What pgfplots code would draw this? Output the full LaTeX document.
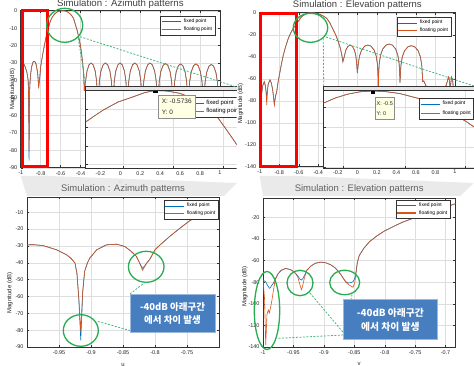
\documentclass[border=0pt]{standalone}
\usepackage{fontspec}
\setmainfont{Liberation Sans}
\newfontfamily\krfont{Noto Sans CJK KR}
\usepackage{pgfplots}
\usepackage{pgfplotstable}
\pgfplotsset{compat=1.18}
\definecolor{mblue}{RGB}{0,114,189}
\definecolor{morange}{RGB}{217,83,25}
\definecolor{mgreen}{RGB}{40,172,80}
\definecolor{dgreen}{RGB}{70,185,130}
\definecolor{boxblue}{RGB}{70,126,192}
\definecolor{tipbg}{RGB}{255,255,228}

\pgfplotstableread{
u fix flt
-1.000 -29.4 -29.4
-0.990 -29.3 -29.3
-0.975 -29.8 -29.8
-0.965 -31.0 -31.0
-0.954 -32.3 -32.3
-0.945 -34.0 -34.0
-0.938 -35.3 -35.3
-0.931 -37.5 -37.5
-0.925 -40.2 -40.2
-0.922 -46.2 -46.2
-0.919 -62 -61
-0.916 -86 -81
-0.913 -58 -57
-0.910 -45.2 -45.2
-0.906 -40.5 -40.5
-0.902 -37.3 -37.3
-0.891 -32.3 -32.3
-0.876 -29.4 -29.4
-0.860 -29.0 -29.0
-0.847 -30.4 -30.4
-0.837 -33.3 -33.3
-0.829 -36.3 -36.3
-0.824 -40.2 -40.2
-0.8195 -43.3 -44.5
-0.816 -41.8 -42.3
-0.813 -40.2 -40.2
-0.808 -37.9 -37.9
-0.800 -32.3 -32.3
-0.792 -29.4 -29.4
-0.777 -24.4 -24.4
-0.761 -19.5 -19.5
-0.745 -14.9 -14.9
-0.730 -11.6 -11.6
-0.714 -8.2 -8.2
-0.700 -5.7 -5.7
-0.680 -3.4 -3.4
-0.660 -1.9 -1.9
-0.640 -0.9 -0.9
-0.620 -0.35 -0.35
-0.600 -0.08 -0.08
-0.5736 0 0
-0.550 -0.2 -0.2
-0.530 -0.7 -0.7
-0.510 -1.5 -1.5
-0.490 -2.7 -2.7
-0.470 -4.3 -4.3
-0.452 -7.8 -7.8
-0.435 -11 -11
-0.418 -15 -15
-0.402 -19.6 -19.6
-0.390 -24 -24
-0.378 -30 -30
-0.368 -36 -36
-0.362 -46 -46
-0.3483 -40.2 -40.2
-0.3346 -34.6 -34.6
-0.3141 -31 -31
-0.2935 -30 -30
-0.2730 -31 -31
-0.2524 -34.6 -34.6
-0.2387 -40.2 -40.2
-0.2305 -48 -48
-0.225 -70 -70
-0.219 -48 -48
-0.210 -40.2 -40.2
-0.195 -34.6 -34.6
-0.1725 -31 -31
-0.150 -30 -30
-0.1275 -31 -31
-0.105 -34.6 -34.6
-0.090 -40.2 -40.2
-0.081 -48 -48
-0.075 -70 -70
-0.0692 -48 -48
-0.0605 -40.2 -40.2
-0.046 -34.6 -34.6
-0.0243 -31 -31
-0.0025 -30 -30
0.0193 -31 -31
0.041 -34.6 -34.6
0.0555 -40.2 -40.2
0.0642 -48 -48
0.070 -70 -70
0.076 -48 -48
0.085 -40.2 -40.2
0.100 -34.6 -34.6
0.1225 -31 -31
0.145 -30 -30
0.1675 -31 -31
0.190 -34.6 -34.6
0.205 -40.2 -40.2
0.214 -48 -48
0.220 -70 -70
0.2262 -48 -48
0.2355 -40.2 -40.2
0.251 -34.6 -34.6
0.2743 -31 -31
0.2975 -30 -30
0.3208 -31 -31
0.344 -34.6 -34.6
0.3595 -40.2 -40.2
0.3688 -48 -48
0.375 -70 -70
0.3812 -48.3 -48.3
0.3905 -40.5 -40.5
0.406 -34.9 -34.9
0.4293 -31.3 -31.3
0.4525 -30.3 -30.3
0.4758 -31.3 -31.3
0.499 -34.9 -34.9
0.5145 -40.5 -40.5
0.5238 -48.3 -48.3
0.530 -70 -70
0.536 -48.5 -48.5
0.545 -40.7 -40.7
0.560 -35.1 -35.1
0.5825 -31.5 -31.5
0.605 -30.5 -30.5
0.6275 -31.5 -31.5
0.650 -35.1 -35.1
0.665 -40.7 -40.7
0.674 -48.5 -48.5
0.680 -70 -70
0.6862 -48.5 -48.5
0.6955 -40.7 -40.7
0.711 -35.1 -35.1
0.7343 -31.5 -31.5
0.7575 -30.5 -30.5
0.7808 -31.5 -31.5
0.804 -35.1 -35.1
0.8195 -40.7 -40.7
0.8288 -48.5 -48.5
0.835 -70 -70
0.8412 -48.8 -48.8
0.8505 -41 -41
0.866 -35.4 -35.4
0.8893 -31.8 -31.8
0.9125 -30.8 -30.8
0.9358 -31.8 -31.8
0.959 -35.4 -35.4
0.9745 -41 -41
0.9838 -48.8 -48.8
0.990 -70 -70
1.000 -48 -48
}\aztab

\pgfplotstableread{
u fix flt
-1.000 -88 -88
-0.993 -83 -83
-0.987 -79 -79
-0.978 -72 -72
-0.968 -66 -66
-0.953 -62.7 -62.7
-0.943 -66 -66
-0.935 -71 -72
-0.928 -77.8 -84
-0.922 -72 -72
-0.913 -65 -65
-0.895 -61.2 -61.2
-0.880 -64 -64
-0.866 -71 -71
-0.856 -78 -79
-0.850 -83 -84
-0.845 -80 -80
-0.838 -76 -76
-0.826 -71.8 -71.8
-0.810 -62 -62
-0.792 -53.6 -53.6
-0.775 -45.5 -45.5
-0.758 -38.5 -38.5
-0.735 -31 -31
-0.707 -23.3 -23.3
-0.680 -18 -18
-0.656 -14.2 -14.2
-0.621 -9.7 -9.7
-0.595 -6.5 -6.5
-0.570 -3.6 -3.6
-0.535 -1.5 -1.5
-0.505 -0.4 -0.4
-0.470 0 0
-0.435 -0.3 -0.3
-0.405 -0.9 -0.9
-0.380 -1.7 -1.7
-0.345 -3.2 -3.2
-0.314 -5.1 -5.1
-0.280 -9.5 -9.5
-0.246 -15.7 -15.7
-0.220 -20.5 -20.5
-0.195 -26.4 -26.4
-0.172 -33 -33
-0.158 -39 -39
-0.148 -44.5 -44.5
-0.1332 -39.7 -39.7
-0.1184 -34.1 -34.1
-0.0962 -30.5 -30.5
-0.074 -29.5 -29.5
-0.0518 -30.5 -30.5
-0.0296 -34.1 -34.1
-0.0148 -39.7 -39.7
-0.0059 -47.5 -47.5
0.000 -55 -55
0.0086 -47.4 -47.4
0.0215 -39.6 -39.6
0.043 -34.0 -34.0
0.0753 -30.4 -30.4
0.1075 -29.4 -29.4
0.1398 -30.4 -30.4
0.172 -34.0 -34.0
0.1935 -39.6 -39.6
0.2064 -47.4 -47.4
0.2118 -56 -56
0.215 -80 -80
0.2183 -55 -55
0.2239 -46.5 -46.5
0.2372 -38.7 -38.7
0.2594 -33.1 -33.1
0.2927 -29.5 -29.5
0.326 -28.5 -28.5
0.3593 -29.5 -29.5
0.3926 -33.1 -33.1
0.4148 -38.7 -38.7
0.4281 -46.5 -46.5
0.4337 -55 -55
0.437 -63.6 -63.6
0.4405 -56.5 -56.5
0.4463 -48 -48
0.4602 -40.2 -40.2
0.4834 -34.6 -34.6
0.5182 -31 -31
0.553 -30 -30
0.5878 -31 -31
0.6226 -34.6 -34.6
0.6458 -40.2 -40.2
0.6597 -48 -48
0.6655 -56.5 -56.5
0.669 -62.7 -62.7
0.680 -62 -62
0.700 -66 -66
0.740 -74 -74
0.790 -80 -80
0.840 -76 -76
0.880 -70 -70
0.910 -66 -66
0.925 -61 -61
0.935 -58.5 -58.5
0.943 -62 -62
0.950 -68 -72
0.957 -64 -64
0.965 -58.5 -58.5
0.975 -61 -61
0.985 -70 -70
1.000 -85 -85
}\eltab

\pgfplotstableread{
u fix flt
-1.000 -78 -78
-0.9975 -79 -95
-0.9955 -79.5 -138
-0.9935 -82 -110
-0.9913 -84 -105.7
-0.9895 -85.7 -108.5
-0.9875 -85 -103
-0.9857 -83 -98
-0.983 -81 -88
-0.980 -77 -78
-0.975 -72 -72
-0.970 -69 -69
-0.963 -67.3 -67.3
-0.955 -68.3 -68.3
-0.948 -70.9 -70.9
-0.943 -74 -75
-0.939 -77.5 -83
-0.937 -78 -87
-0.935 -77 -84
-0.932 -74 -76
-0.928 -69 -69
-0.921 -65 -65
-0.914 -62.5 -62.5
-0.905 -61.4 -61.4
-0.896 -62.2 -62.2
-0.889 -63.8 -63.8
-0.882 -66.5 -66.5
-0.877 -69.5 -69.5
-0.872 -73 -73
-0.868 -76.5 -76.5
-0.864 -79.5 -80
-0.860 -80.8 -82
-0.856 -80.5 -83.5
-0.852 -79.5 -84.7
-0.849 -76 -80
-0.847 -70 -71
-0.845 -62 -62
-0.842 -55.5 -55.5
-0.834 -48.4 -48.4
-0.825 -42.5 -42.5
-0.8125 -37 -37
-0.800 -32.5 -32.5
-0.785 -28.3 -28.3
-0.770 -24.3 -24.3
-0.752 -20.6 -20.6
-0.740 -17.8 -17.8
-0.725 -14.4 -14.4
-0.712 -12.3 -12.3
-0.700 -10.5 -10.5
-0.684 -7.4 -7.4
-0.670 -5.5 -5.5
}\eldtab

\pgfplotsset{
  mat/.style={
    scale only axis,
    anchor=north west,
    axis background/.style={fill=white},
    grid=major,
    major grid style={draw=black!13, line width=0.35pt},
    axis line style={draw=black!80, line width=0.45pt},
    tick align=inside,
    major tick length=2.2bp,
    tick style={draw=black!80, line width=0.35pt},
    tick label style={font=\fontsize{5.5}{6}\selectfont, text=black!85},
    /pgf/number format/assume math mode=true,
    legend cell align=left,
    legend style={draw=black!80, line width=0.4pt, fill=white,
      font=\fontsize{5}{5.5}\selectfont, inner sep=0.8bp, row sep=-1.2bp,
      anchor=north east},
    legend image code/.code={\draw[##1] (0bp,0bp) -- (19bp,0bp);},
    label style={font=\fontsize{6}{7}\selectfont, text=black!85},
    title style={font=\fontsize{9.5}{10}\selectfont, text=black!75, anchor=base, at={(0.5,1)}},
  },
}

\begin{document}
\begin{tikzpicture}
\useasboundingbox (0,0) rectangle (474bp,366bp);
\clip (0,0) rectangle (474bp,366bp);
\fill[white] (0,0) rectangle (474bp,366bp);

% ---------- top left ----------
\begin{axis}[mat, at={(20.7bp,355.3bp)}, width=199.3bp, height=157bp,
  xmin=-1, xmax=1, ymin=-90, ymax=0,
  xtick={-1,-0.8,-0.6,-0.4,-0.2,0,0.2,0.4,0.6,0.8,1},
  ytick={-90,-80,-70,-60,-50,-40,-30,-20,-10,0},
  title={Simulation : Azimuth patterns},
  title style={yshift=-1.8bp, font=\fontsize{9.7}{10}\selectfont},
  xlabel={u}, xlabel style={at={(axis description cs:0.5,-0.089)}, anchor=center},
  ylabel={Magnitude (dB)}, ylabel style={at={(axis description cs:-0.041,0.5)}, anchor=center},
  legend style={at={(0.975,0.966)}}]
\addplot[mblue, line width=0.6bp, forget plot] table[x=u,y=fix]{\aztab};
\addplot[morange, line width=0.6bp, forget plot] table[x=u,y=flt]{\aztab};
\addlegendimage{mblue, line width=0.6bp}\addlegendentry{fixed point}
\addlegendimage{morange, line width=1.3bp}\addlegendentry{floating point}
\end{axis}

% ---------- top right ----------
\begin{axis}[mat, at={(259.7bp,353.3bp)}, width=195.3bp, height=154bp,
  xmin=-1, xmax=1, ymin=-140, ymax=0,
  xtick={-1,-0.8,-0.6,-0.4,-0.2,0,0.2,0.4,0.6,0.8,1},
  ytick={-140,-120,-100,-80,-60,-40,-20,0},
  title={Simulation : Elevation patterns},
  title style={yshift=-0.6bp},
  xlabel={v}, xlabel style={at={(axis description cs:0.5,-0.099)}, anchor=center},
  ylabel={Magnitude (dB)}, ylabel style={at={(axis description cs:-0.098,0.41)}, anchor=center},
  legend style={at={(0.98,0.97)}}]
\addplot[mblue, line width=0.6bp, forget plot] table[x=u,y=fix]{\eltab};
\addplot[morange, line width=0.6bp, forget plot] table[x=u,y=flt]{\eltab};
\addlegendimage{mblue, line width=0.6bp}\addlegendentry{fixed point}
\addlegendimage{morange, line width=1.3bp}\addlegendentry{floating point}
\end{axis}

% ---------- grey fans ----------
\begin{scope}[x=1bp,y=-1bp,yshift=366bp]
\fill[black!9, opacity=0.9] (20.7,176) -- (50,176) -- (237,183) -- (224,196) -- (27,196) -- cycle;
\fill[black!9, opacity=0.9] (259.7,176) -- (297,176) -- (474,183) -- (460,196) -- (263,196) -- cycle;
\end{scope}

% ---------- bottom left ----------
\begin{axis}[mat, at={(27bp,169bp)}, width=192bp, height=150bp,
  xmin=-1, xmax=-0.7, ymin=-90, ymax=-1,
  xtick={-0.95,-0.9,-0.85,-0.8,-0.75},
  ytick={-90,-80,-70,-60,-50,-40,-30,-20,-10},
  title={Simulation : Azimuth patterns},
  title style={yshift=-0.3bp, text=black!62},
  xlabel={u}, xlabel style={at={(axis description cs:0.5,-0.118)}, anchor=center},
  ylabel={Magnitude (dB)}, ylabel style={at={(axis description cs:-0.089,0.36)}, anchor=center},
  legend style={at={(0.996,0.978)}}]
\addplot[mblue, line width=0.6bp, forget plot] table[x=u,y=fix]{\aztab};
\addplot[morange, line width=0.6bp, forget plot] table[x=u,y=flt]{\aztab};
\addlegendimage{mblue, line width=0.6bp}\addlegendentry{fixed point}
\addlegendimage{morange, line width=1.3bp}\addlegendentry{floating point}
\end{axis}

% ---------- bottom right ----------
\begin{axis}[mat, at={(263bp,168bp)}, width=192.3bp, height=149bp,
  xmin=-1, xmax=-0.684, ymin=-140, ymax=-2.1,
  xtick={-1,-0.95,-0.9,-0.85,-0.8,-0.75,-0.7},
  ytick={-140,-120,-100,-80,-60,-40,-20},
  title={Simulation : Elevation patterns},
  title style={yshift=0.3bp, text=black!62},
  xlabel={v}, xlabel style={at={(axis description cs:0.5,-0.114)}, anchor=center},
  ylabel={Magnitude (dB)}, ylabel style={at={(axis description cs:-0.094,0.406)}, anchor=center},
  legend style={at={(0.974,0.989)}}]
\addplot[mblue, line width=0.6bp, forget plot] table[x=u,y=fix]{\eldtab};
\addplot[morange, line width=0.6bp, forget plot] table[x=u,y=flt]{\eldtab};
\addlegendimage{mblue, line width=0.6bp}\addlegendentry{fixed point}
\addlegendimage{morange, line width=1.3bp}\addlegendentry{floating point}
\end{axis}

% ---------- red boxes ----------
\begin{scope}[x=1bp,y=-1bp,yshift=366bp]
\draw[red, line width=3.2bp] (22.3,10.9) rectangle (47.7,166.7);
\draw[red, line width=3.2bp] (260.3,13.3) rectangle (296.4,166.7);
\end{scope}

% ---------- top left inset ----------
\begin{scope}
\clip (0,0) rectangle (236.5bp,366bp);
\begin{axis}[mat, at={(85.7bp,280bp)}, width=154.3bp, height=82bp,
  xmin=-0.58746, xmax=-0.55660, ymin=-0.2094, ymax=0.0122,
  xtick={-0.58,-0.57,-0.56}, ytick={-0.2,-0.15,-0.1,-0.05},
  xticklabels={}, yticklabels={}, clip mode=individual,
  legend style={at={(0.689,0.866)}, anchor=north west, font=\fontsize{6}{6.5}\selectfont},
  legend image code/.code={\draw[#1] (0bp,0bp) -- (10bp,0bp);}]
\addplot[mblue, line width=0.6bp, forget plot] coordinates {(-0.58746,-0.0851) (-0.58560,-0.0676) (-0.58394,-0.0527) (-0.58100,-0.0311) (-0.57794,-0.0169) (-0.57560,-0.0054) (-0.5736,0) (-0.57120,-0.0014) (-0.56860,-0.0076) (-0.56580,-0.0230) (-0.56326,-0.0438) (-0.56120,-0.0703) (-0.55926,-0.1068) (-0.55760,-0.1392) (-0.55660,-0.1608)};
\addplot[morange, line width=0.6bp, forget plot] coordinates {(-0.58746,-0.0851) (-0.58560,-0.0676) (-0.58394,-0.0527) (-0.58100,-0.0311) (-0.57794,-0.0169) (-0.57560,-0.0054) (-0.5736,0) (-0.57120,-0.0014) (-0.56860,-0.0076) (-0.56580,-0.0230) (-0.56326,-0.0438) (-0.56120,-0.0703) (-0.55926,-0.1068) (-0.55760,-0.1392) (-0.55660,-0.1608)};
\addplot[only marks, mark=square*, mark size=1.8bp, black, forget plot] coordinates {(-0.5736,0)};
\addlegendimage{mblue, line width=0.6bp}\addlegendentry{fixed point}
\addlegendimage{morange, line width=1.3bp}\addlegendentry{floating point}
\end{axis}
\end{scope}

% ---------- top right inset ----------
\begin{axis}[mat, at={(323.7bp,280bp)}, width=152bp, height=82bp,
  xmin=-0.51607, xmax=-0.46623, ymin=-0.1925, ymax=0.0125,
  xtick={-0.50964,-0.48941,-0.46974}, ytick={-0.18925,-0.13925,-0.08925,-0.03925},
  xticklabels={}, yticklabels={}, clip mode=individual,
  legend style={at={(0.629,0.85)}, anchor=north west, row sep=0.5bp}]
\addplot[mblue, line width=0.6bp, forget plot] coordinates {(-0.51607,-0.030) (-0.51236,-0.0178) (-0.50843,-0.0083) (-0.50416,-0.002) (-0.5,0) (-0.49597,-0.0013) (-0.49105,-0.0065) (-0.48449,-0.0196) (-0.47793,-0.0396) (-0.47302,-0.0593) (-0.46908,-0.0778) (-0.46679,-0.0898)};
\addplot[morange, line width=0.6bp, forget plot] coordinates {(-0.51607,-0.030) (-0.51236,-0.0178) (-0.50843,-0.0083) (-0.50416,-0.002) (-0.5,0) (-0.49597,-0.0013) (-0.49105,-0.0065) (-0.48449,-0.0196) (-0.47793,-0.0396) (-0.47302,-0.0593) (-0.46908,-0.0778) (-0.46679,-0.0898)};
\addplot[only marks, mark=square*, mark size=1.8bp, black, forget plot] coordinates {(-0.5,0)};
\addlegendimage{mblue, line width=0.6bp}\addlegendentry{fixed point}
\addlegendimage{morange, line width=1.3bp}\addlegendentry{floating point}
\end{axis}

% ---------- annotations ----------
\begin{scope}[x=1bp,y=-1bp,yshift=366bp]
\fill[black!10] (85.7,86) rectangle (236.5,90);
\draw[black!80, line width=0.5bp] (85.7,86) -- (236.5,86) (85.7,90) -- (236.5,90);
\fill[black!10] (323.7,86) rectangle (474,90);
\draw[black!80, line width=0.5bp] (323.7,86) -- (474,86) (323.7,90) -- (474,90);
\node[draw=black!45, fill=tipbg, line width=0.4bp, anchor=north west, inner sep=1.5bp,
  minimum width=37bp, minimum height=23bp, align=left,
  font=\fontsize{6.5}{10.5}\selectfont, text=black!85] at (158,95) {X: -0.5736\\Y: 0};
\node[draw=black!45, fill=tipbg, line width=0.4bp, anchor=north west, inner sep=1.5bp,
  minimum width=19bp, minimum height=22bp, align=left,
  font=\fontsize{5.5}{10}\selectfont, text=black!85] at (375,97) {X: -0.5\\Y: 0};
\draw[mgreen, line width=1.3bp] (64.7,25.3) ellipse [x radius=18bp, y radius=17bp];
\draw[mgreen, line width=1.3bp] (310.5,27.8) ellipse [x radius=17.2bp, y radius=14.5bp];
\draw[mgreen, line width=1.3bp] (80.8,330.5) ellipse [x radius=17.5bp, y radius=15.8bp];
\draw[mgreen, line width=1.3bp] (146.2,266.8) ellipse [x radius=17.8bp, y radius=15.5bp];
\draw[mgreen, line width=1.3bp] (267,310.5) ellipse [x radius=12.7bp, y radius=39bp];
\draw[mgreen, line width=1.3bp] (300,283) ellipse [x radius=13bp, y radius=12.7bp];
\draw[mgreen, line width=1.3bp] (344.7,282.5) ellipse [x radius=15bp, y radius=12.2bp];
\begin{scope}[dgreen, line width=0.8bp, dash pattern=on 2bp off 1.5bp]
\draw (78.3,38.3) -- (85.7,86);
\draw (80,36.7) -- (236.5,87);
\draw (323.3,38.5) -- (323.7,86);
\draw (326,37) -- (474,86);
\draw (98,321.5) -- (130,330.5);
\draw (130,294) -- (146,281.5);
\draw (278.5,338.3) -- (343.7,335);
\draw (310,293) -- (343.7,333);
\draw (352,294.5) -- (351,299.7);
\end{scope}
\node[fill=boxblue, draw=boxblue!55!white, line width=0.8bp, text=white,
  minimum width=85bp, minimum height=38bp, inner sep=0, align=center,
  font=\krfont\bfseries\fontsize{9.5}{13}\selectfont] at (172.5,313) {-40dB 아래구간\\에서 차이 발생};
\node[fill=boxblue, draw=boxblue!55!white, line width=0.8bp, text=white,
  minimum width=93bp, minimum height=40bp, inner sep=0, align=center,
  font=\krfont\bfseries\fontsize{9.8}{13.5}\selectfont] at (390.4,319.7) {-40dB 아래구간\\에서 차이 발생};
\end{scope}
\end{tikzpicture}
\end{document}
